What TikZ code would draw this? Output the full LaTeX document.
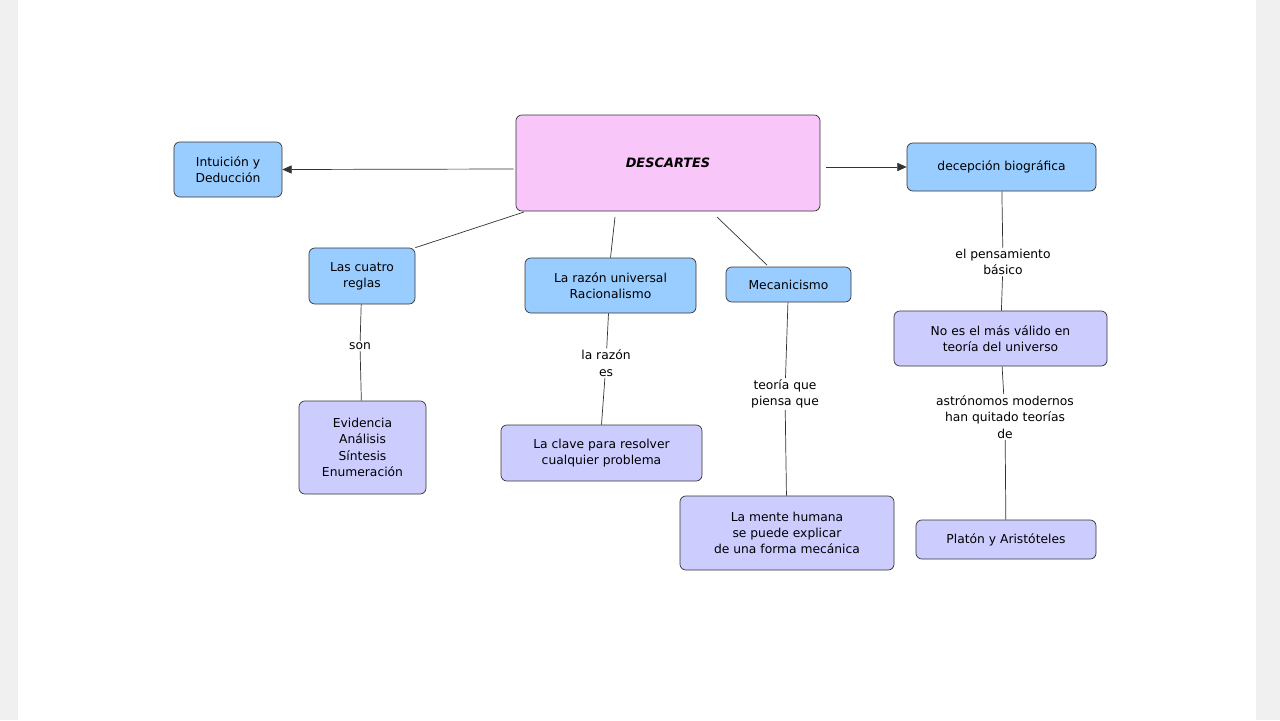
\documentclass[tikz,border=0pt]{standalone}
\usepackage{fontspec}
\setmainfont{DejaVu Sans}
\usetikzlibrary{arrows.meta}
\definecolor{bl}{HTML}{99CCFF}
\definecolor{lv}{HTML}{CCCCFF}
\definecolor{pk}{HTML}{F8C6F8}
\begin{document}
\begin{tikzpicture}[x=0.03cm,y=-0.03cm,
  box/.style={draw=black!80,line width=0.6pt,rounded corners=5pt,align=center,inner sep=0pt,font=\fontsize{10.5}{14}\selectfont},
  bbox/.style={box,fill=bl},
  lbox/.style={box,fill=lv},
  lab/.style={align=center,fill=white,inner sep=1pt,font=\fontsize{10.5}{14}\selectfont},
  ln/.style={draw=black!80,line width=0.6pt},
  ar/.style={ln,-{Triangle[length=8pt,width=7pt]}}]
\fill[black!6] (0,0) rectangle (1280,720);
\fill[white] (18,0) rectangle (1256,720);
\useasboundingbox (0,0) rectangle (1280,720);
\node[box,fill=pk,minimum width=9.12cm,minimum height=2.88cm,font=\fontsize{11}{14}\selectfont\bfseries\itshape] (d) at (668,163) {DESCARTES};
\node[bbox,minimum width=3.24cm,minimum height=1.65cm] (i) at (228,169.5) {Intuición y\\Deducción};
\node[bbox,minimum width=5.67cm,minimum height=1.44cm] (b) at (1001.5,167) {decepción biográfica};
\node[bbox,minimum width=3.18cm,minimum height=1.68cm] (r) at (362,276) {Las cuatro\\reglas};
\node[bbox,minimum width=5.13cm,minimum height=1.65cm] (u) at (610.5,285.5) {La razón universal\\Racionalismo};
\node[bbox,minimum width=3.75cm,minimum height=1.05cm] (m) at (788.5,284.5) {Mecanicismo};
\node[lbox,minimum width=6.39cm,minimum height=1.65cm] (n) at (1000.5,338.5) {No es el más válido en\\teoría del universo};
\node[lbox,minimum width=3.81cm,minimum height=2.79cm] (e) at (362.5,447.5) {Evidencia\\Análisis\\Síntesis\\Enumeración};
\node[lbox,minimum width=6.03cm,minimum height=1.68cm] (c) at (601.5,453) {La clave para resolver\\cualquier problema};
\node[lbox,minimum width=6.42cm,minimum height=2.22cm] (h) at (787,533) {La mente humana\\se puede explicar\\de una forma mecánica};
\node[lbox,minimum width=5.4cm,minimum height=1.17cm] (p) at (1006,539.5) {Platón y Aristóteles};
\node[lab] (l1) at (360,346) {son};
\node[lab] (l2) at (606,363) {la razón\\es};
\node[lab] (l3) at (785,394) {teoría que\\piensa que};
\node[lab] (l4) at (1003,262) {el pensamiento\\básico};
\node[lab] (l5) at (1005,417) {astrónomos modernos\\han quitado teorías\\de};
\draw[ar] (d.west) ++(-2,6) -- (i.east);
\draw[ar] (d.east) ++(6,4) -- (b.west);
\draw[ln] (524,212) -- (r.north east);
\draw[ln] (615,217) -- (u.north);
\draw[ln] (717,217) -- (767,265);
\draw[ln] (r) -- (l1); \draw[ln] (l1) -- (e);
\draw[ln] (u.south) ++(-2,0) -- (l2); \draw[ln] (l2) -- (c.north);
\draw[ln] (m) -- (l3); \draw[ln] (l3) -- (h);
\draw[ln] (b) -- (l4); \draw[ln] (l4) -- (n);
\draw[ln] (n) -- (l5); \draw[ln] (l5) -- (p);
\end{tikzpicture}
\end{document}
